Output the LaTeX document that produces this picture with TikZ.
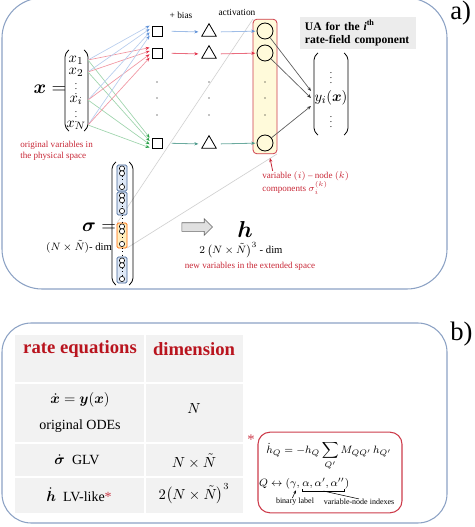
\documentclass[tikz,border=0pt]{standalone}
\usepackage{amsmath}
\usepackage{amssymb}
\usepackage{bm}
\usepackage{fontspec}
\setmainfont{Liberation Serif}
\usetikzlibrary{arrows.meta, shapes.geometric, shapes.arrows}
\definecolor{framecolor}{RGB}{140,162,196}
\definecolor{bluecolor}{RGB}{95,145,215}
\definecolor{redcolor}{RGB}{225,45,70}
\definecolor{greencolor}{RGB}{40,160,70}
\definecolor{tealcolor}{RGB}{70,150,135}
\definecolor{darkred}{RGB}{185,20,30}
\definecolor{labelred}{RGB}{200,40,55}
\definecolor{yellowfill}{RGB}{255,250,218}
\definecolor{boxred}{RGB}{205,60,75}
\definecolor{tablegray}{RGB}{242,242,242}
\definecolor{uagray}{RGB}{236,236,236}
\definecolor{blockblue}{RGB}{222,232,246}
\definecolor{blockorange}{RGB}{255,238,190}

\begin{document}
\begin{tikzpicture}[x=0.75pt, y=-0.75pt, >=Stealth,
  frame/.style={draw=framecolor, line width=0.8pt},
  vecentry/.style={font=\fontsize{11}{12}\selectfont, inner sep=0pt},
  vecdots/.style={font=\fontsize{7}{7}\selectfont, inner sep=0pt},
  redtext/.style={text=labelred, font=\fontsize{6.8}{8.5}\selectfont, align=left, inner sep=0pt},
  smalltext/.style={font=\fontsize{7}{8}\selectfont, inner sep=0pt},
  sumnode/.style={draw, line width=0.6pt, minimum size=7.5pt, inner sep=0pt},
  actnode/.style={draw, line width=0.6pt, regular polygon, regular polygon sides=3, minimum size=12.5pt, inner sep=0pt},
  hidnode/.style={draw, line width=0.6pt, circle, minimum size=12pt, inner sep=0pt},
  tip/.style={-{Stealth[length=3pt, width=2.4pt, color=#1]}},
  inblue/.style={draw=bluecolor!45, line width=0.5pt, tip=bluecolor},
  inred/.style={draw=redcolor!50, line width=0.5pt, tip=redcolor},
  ingreen/.style={draw=greencolor!45, line width=0.5pt, tip=greencolor},
  headtext/.style={font=\bfseries\fontsize{14}{16}\selectfont, text=darkred, inner sep=0pt},
  celltext/.style={font=\fontsize{10.5}{12}\selectfont, inner sep=0pt},
  eqtext/.style={font=\fontsize{8.5}{10}\selectfont, inner sep=0pt}]
\useasboundingbox (0,0) rectangle (474,527);

% Panel frames
\draw[frame, rounded corners=30pt] (2,-2) rectangle (447,289);
\draw[frame, rounded corners=22pt] (2,323) rectangle (447,523);
\node[font=\fontsize{20}{22}\selectfont, anchor=west, inner sep=0pt] (alab) at (450,13) {a)};
\node[font=\fontsize{20}{22}\selectfont, anchor=west, inner sep=0pt] (blab) at (450,334) {b)};

% Cone from the sigma block to the hidden layer (behind everything)
\coordinate (sigNW) at (117,223);
\coordinate (sigSE) at (127,248);
\coordinate (hidNW) at (253,19);
\coordinate (hidSE) at (277,154);
\draw[black!18, line width=0.5pt] (sigNW) -- (hidNW);
\draw[black!18, line width=0.5pt] (sigSE) -- (hidSE);

% Input vector x
\node[font=\fontsize{15}{16}\selectfont, inner sep=0pt] (xlabel) at (50,89) {$\bm{x} =$};
\node[vecentry] (x1) at (76,60) {$x_1$};
\node[vecentry] (x2) at (76,72) {$x_2$};
\node[vecdots] (xd1) at (76,85) {$\vdots$};
\node[vecentry] (xi) at (76,100) {$x_i$};
\node[vecdots] (xd2) at (76,113) {$\vdots$};
\node[vecentry] (xN) at (76,125) {$x_N$};
\draw[line width=0.6pt, rounded corners=3pt] (69,50) -- (65,53) -- (65,128) -- (69,131);
\draw[line width=0.6pt, rounded corners=3pt] (84,50) -- (88,53) -- (88,128) -- (84,131);
\node[redtext, anchor=west] (xnote) at (20,151) {original variables in\\the physical space};
\coordinate (xr) at (88,90);

% Sums, activations and hidden units
\node[draw=boxred, fill=yellowfill, rounded corners=3pt, line width=0.6pt,
  minimum width=18pt, minimum height=101pt] (hidbox) at (265,86.5) {};
\node[sumnode] (sum1) at (157,31) {};
\node[sumnode] (sum2) at (157,53) {};
\node[sumnode] (sumN) at (157,143) {};
\node[actnode] (act1) at (209,32) {};
\node[actnode] (act2) at (209,54) {};
\node[actnode] (actN) at (209,144) {};
\node[hidnode] (hid1) at (265,31) {};
\node[hidnode] (hid2) at (265,53) {};
\node[hidnode] (hidN) at (265,143) {};
\foreach \xx in {157,209,265}
  \foreach \yy in {82,98,115}
    \fill (\xx,\yy) circle (0.7);
\node[smalltext] (biaslab) at (181,15) {+ bias};
\node[smalltext] (actlab) at (237,12) {activation};

% Weights from x to the sums
\foreach \src/\dy in {x1/-4,x2/-1.5,xi/1,xN/3.5} {
  \draw[inblue] (\src -| xr) -- ([xshift=-1.5pt, yshift=-\dy pt]sum1.west);
  \draw[inred] (\src -| xr) -- ([xshift=-1.5pt, yshift=-\dy pt]sum2.west);
  \draw[ingreen] (\src -| xr) -- ([xshift=-1.5pt, yshift=-\dy pt]sumN.west);
}

% Bias and activation arrows
\draw[draw=bluecolor!60, line width=0.6pt, tip=bluecolor, shorten <=7pt, shorten >=4pt] (sum1) -- (act1.center -| act1.west);
\draw[draw=redcolor!70, line width=0.6pt, tip=redcolor, shorten <=7pt, shorten >=4pt] (sum2) -- (act2.center -| act2.west);
\draw[draw=tealcolor!80, line width=0.6pt, tip=tealcolor, shorten <=7pt, shorten >=4pt] (sumN) -- (actN.center -| actN.west);
\draw[draw=bluecolor!60, line width=0.6pt, tip=bluecolor, shorten <=5pt, shorten >=1pt] (act1.center -| act1.east) -- (hid1);
\draw[draw=redcolor!70, line width=0.6pt, tip=redcolor, shorten <=5pt, shorten >=1pt] (act2.center -| act2.east) -- (hid2);
\draw[draw=tealcolor!80, line width=0.6pt, tip=tealcolor, shorten <=5pt, shorten >=1pt] (actN.center -| actN.east) -- (hidN);

% Output component y_i(x)
\coordinate (yin1) at (311,91);
\coordinate (yin2) at (311,98);
\coordinate (yin3) at (311,106);
\draw[black!65, line width=0.5pt, tip=black!80] (hid1) -- (yin1);
\draw[black!65, line width=0.5pt, tip=black!80] (hid2) -- (yin2);
\draw[black!65, line width=0.5pt, tip=black!80] (hidN) -- (yin3);
\node[vecdots] (yd1) at (331,74) {$\vdots$};
\node[vecentry] (yi) at (331,98) {$y_i(\bm{x})$};
\node[vecdots] (yd2) at (331,118) {$\vdots$};
\draw[line width=0.6pt, rounded corners=3pt] (318,53) -- (314,56) -- (314,132) -- (318,135);
\draw[line width=0.6pt, rounded corners=3pt] (344,53) -- (348,56) -- (348,132) -- (344,135);
\node[fill=uagray, anchor=north west, text width=80pt, align=left, inner xsep=3.5pt, inner ysep=2pt,
  font=\bfseries\fontsize{8.7}{10}\selectfont] (ualab) at (300,17) {UA for the \textit{i}\textsuperscript{th}\\rate-field component};

% Note on the hidden layer
\node[redtext, anchor=west] (hidnote) at (262,183) {variable $(i)$ -- node $(k)$\\components $\sigma_i^{(k)}$};
\coordinate (notetip) at (270,158);
\draw[labelred, line width=0.6pt, tip=labelred] ([xshift=8pt]hidnote.north west) -- (notetip);

% Extended vector sigma
\node[font=\fontsize{15}{16}\selectfont, inner sep=0pt] (siglabel) at (99,227) {$\bm{\sigma} =$};
\node[font=\fontsize{8}{9}\selectfont, inner sep=0pt] (sigdim) at (79,247) {$(N \times \tilde{N})$- dim};
\foreach \ya/\yb/\fc/\dc in {165/191/blockblue/bluecolor!70!black, 192/215/blockblue/bluecolor!70!black,
                             223/248/blockorange/orange!80!red, 257/283/blockblue/bluecolor!70!black} {
  \draw[fill=\fc, draw=\dc, line width=0.5pt, rounded corners=1pt] (117,\ya) rectangle (127,\yb);
  \draw[line width=0.45pt, fill=white] (122,\ya+3.5) circle (2.6);
  \draw[line width=0.45pt, fill=white] (122,\ya+8.3) circle (2.6);
  \draw[line width=0.45pt, dotted] (122,\ya+11) -- (122,\yb-7);
  \draw[line width=0.45pt, fill=white] (122,\yb-4) circle (2.6);
}
\draw[line width=0.5pt, dotted] (122,215) -- (122,223);
\draw[line width=0.5pt, dotted] (122,248) -- (122,257);
\draw[line width=0.6pt, rounded corners=3pt] (116,162) -- (112,165) -- (112,282) -- (116,285);
\draw[line width=0.6pt, rounded corners=3pt] (129,162) -- (133,165) -- (133,282) -- (129,285);

% Mapping to h
\node[single arrow, draw=black!60, fill=black!12, line width=0.5pt, inner xsep=0pt, inner ysep=3pt,
  minimum height=23pt, minimum width=12pt, single arrow head extend=3pt] (maparrow) at (195,227) {};
\node[font=\fontsize{18}{20}\selectfont, inner sep=0pt] (hlabel) at (245,229) {$\bm{h}$};
\node[font=\fontsize{8}{9}\selectfont, inner sep=0pt] (hdim) at (241,250) {$2\,\big(N \times \tilde{N}\big)^3$ - dim};
\node[redtext] (hnote) at (250,266) {new variables in the extended space};

% Table of rate equations
\fill[tablegray] (15,335) rectangle (243,513);
\draw[white, line width=1.2pt] (145,335) -- (145,513);
\draw[white, line width=1.2pt] (15,383) -- (243,383);
\draw[white, line width=1.2pt] (15,443) -- (243,443);
\draw[white, line width=1.2pt] (15,477) -- (243,477);
\node[headtext] (hrate) at (80,349) {rate equations};
\node[headtext] (hdimen) at (194,349) {dimension};
\node[celltext] (rowxa) at (80,400) {$\dot{\bm{x}} = \bm{y}(\bm{x})$};
\node[celltext] (rowxb) at (80,426) {original ODEs};
\node[celltext] (rowxc) at (194,409) {$N$};
\node[celltext] (rowsa) at (77,460) {$\dot{\bm{\sigma}}$\enspace GLV};
\node[celltext] (rowsc) at (194,461) {$N \times \tilde{N}$};
\node[celltext] (rowha) at (79,495) {$\dot{\bm{h}}$\enspace LV-like\textcolor{boxred}{*}};
\node[celltext] (rowhc) at (194,494) {$2\big(N \times \tilde{N}\big)^3$};

% LV-like equations
\node[draw=boxred, line width=0.8pt, rounded corners=9pt, minimum width=108pt, minimum height=60.5pt] (eqbox) at (330,472.5) {};
\node[text=boxred, font=\fontsize{11}{12}\selectfont, inner sep=0pt] (eqstar) at (251,440) {*};
\node[eqtext] (eqlv) at (329,456) {$\displaystyle \dot{h}_Q = -h_Q \sum_{Q'} M_{QQ'}\, h_{Q'}$};
\node[eqtext, anchor=base east] (eqleft) at (300,486) {$Q \leftrightarrow (\gamma,$};
\node[eqtext, anchor=base west] (eqidx) at ([xshift=1.6pt]eqleft.base east) {$\alpha, \alpha', \alpha''$};
\node[eqtext, anchor=base west] (eqright) at (eqidx.base east) {$)$};
\node[font=\fontsize{6}{7}\selectfont, inner sep=0pt] (binlab) at (295,502) {binary label};
\node[font=\fontsize{6}{7}\selectfont, inner sep=0pt] (idxlab) at (359,502) {variable-node indexes};
\draw[line width=0.4pt, -{Stealth[length=2.5pt, width=2pt]}] ([xshift=-2pt]binlab.north) -- ([xshift=-3pt, yshift=-1pt]eqleft.south east);
\draw[line width=0.4pt] ([yshift=-0.5pt]eqidx.south west) -- ([yshift=-2pt]eqidx.south west) -- ([yshift=-2pt]eqidx.south east) -- ([yshift=-0.5pt]eqidx.south east);
\draw[line width=0.4pt] ([yshift=-2pt]eqidx.south) -- (idxlab.north);
\end{tikzpicture}
\end{document}
